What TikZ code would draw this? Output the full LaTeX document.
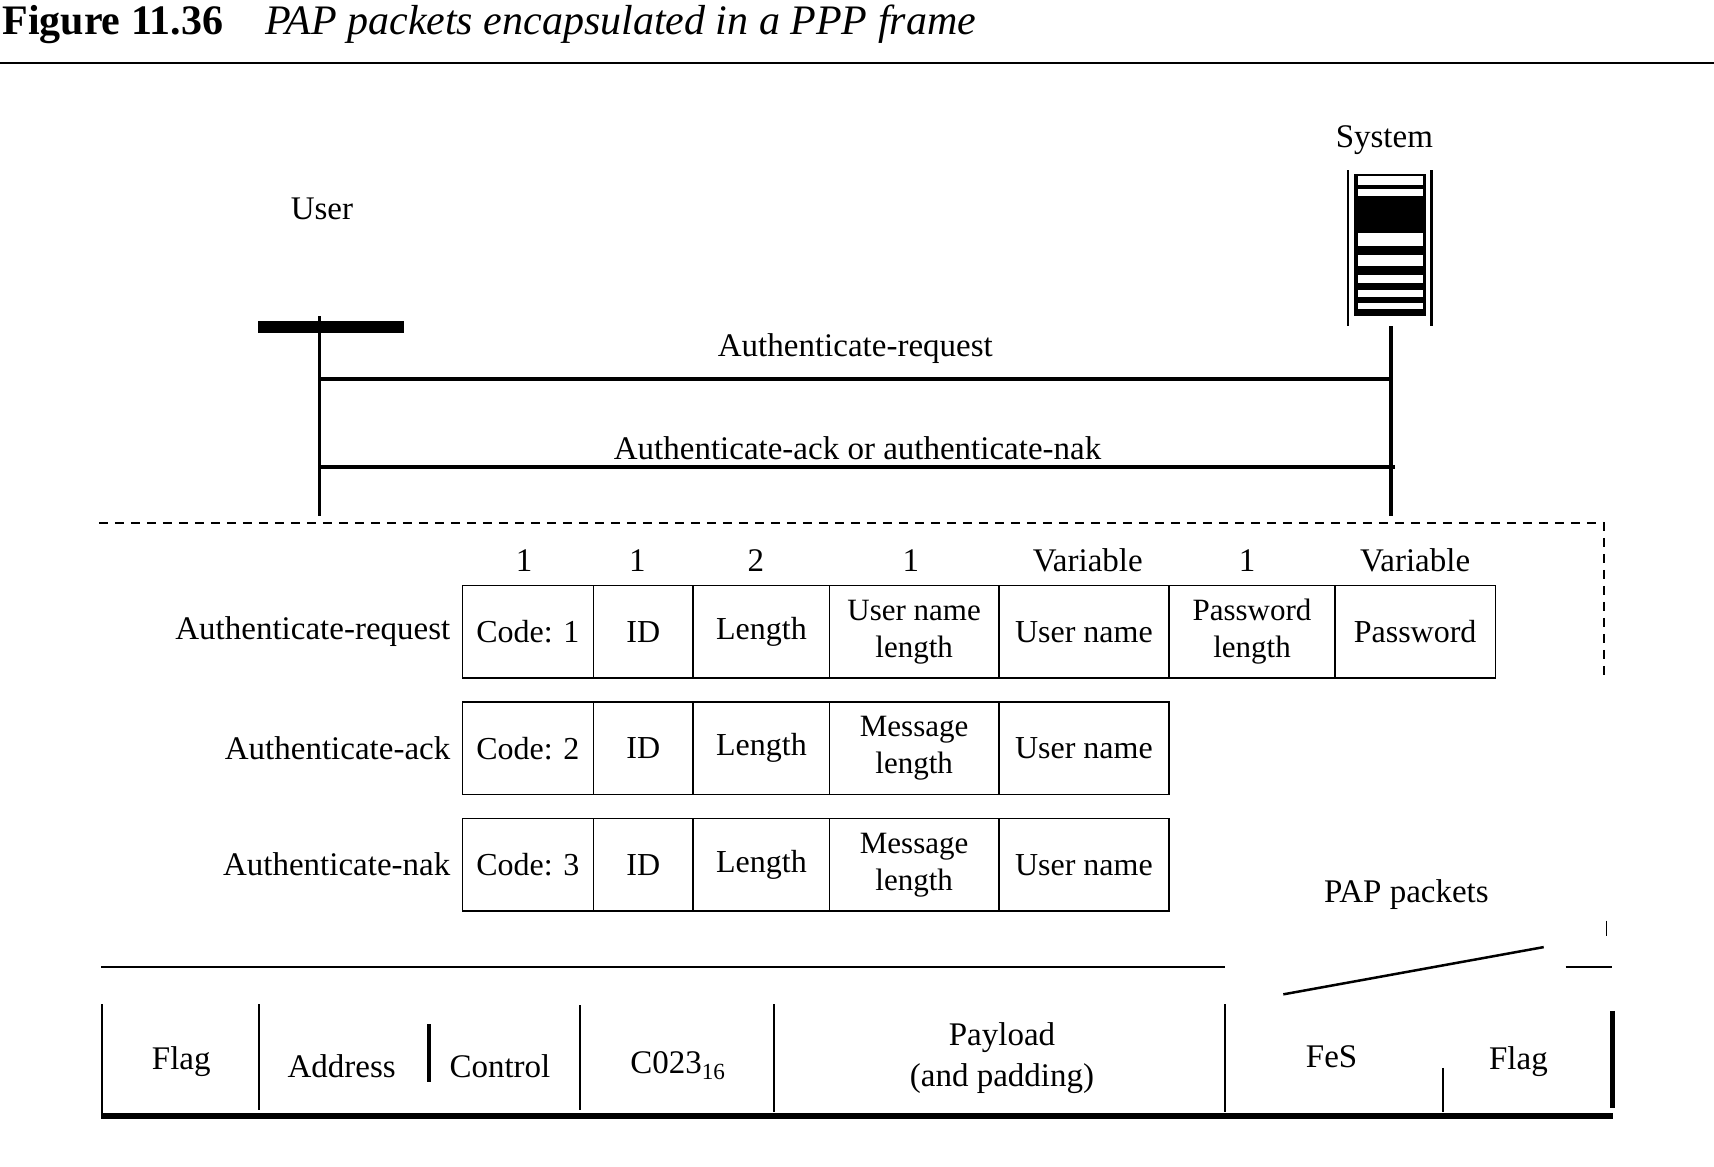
\documentclass[tikz,border=0pt]{standalone}
\usepackage{fontspec}
\setmainfont{Liberation Serif}
\usetikzlibrary{positioning}
\begin{document}
\begin{tikzpicture}[x=1.0987pt,y=-1.0987pt,
  lbl/.style={inner sep=0pt, font=\fontsize{33}{35}\selectfont},
  cell/.style={draw, line width=1.6pt, minimum height=84pt*1.0987, inner sep=0pt, outer sep=0pt,
    align=center, font=\fontsize{32}{32}\selectfont},
  wire/.style={line width=3.5pt},
  seg/.style={line width=2pt}]
\useasboundingbox (0,0) rectangle (1560,1062);
% title
\node[lbl, anchor=base west, font=\fontsize{42}{45}\selectfont] (title) at (2,31) {\textbf{Figure 11.36}\quad\textit{PAP packets encapsulated in a PPP frame}};
\draw[line width=2pt] (0,57) -- (1562,57);

% stations
\node[lbl] (user) at (293,190) {User};
\node[lbl] (system) at (1260,128) {System};
\fill (235,292) rectangle (368,303);
\draw[line width=2.5pt] (1227,155) -- (1227,297) (1303,155) -- (1303,297);
\fill (1232,158) rectangle (1298,288);
\foreach \y/\h in {160/8,172/6,212/12,232/10,250/8,264/6,276/5}
  \fill[white] (1236,\y) rectangle (1295,\y+\h);
\coordinate (u0) at (291,288);
\coordinate (u1) at (291,470);
\coordinate (s0) at (1266,297);
\coordinate (s1) at (1266,470);
\draw[wire] (u0) -- (u1);
\draw[wire] (s0) -- (s1);
\coordinate (r0) at (291,345); \coordinate (r1) at (1266,345);
\coordinate (a0) at (291,425); \coordinate (a1) at (1270,425);
\draw[wire] (r0) -- node[lbl, above=14pt] (req) {Authenticate-request} (r1);
\draw[wire] (a0) -- node[lbl, above=5pt] (ack) {Authenticate-ack or authenticate-nak} (a1);

% dashed box
\draw[dashed, line width=2pt, dash pattern=on 9pt off 7pt] (90,476) -- (1460,476) -- (1460,620);
\draw[line width=1.5pt] (1462,838) -- (1462,852);

% packet formats
\foreach \x/\w in {477/1,580/1,688/2,829/1,990/Variable,1135/1,1288/Variable}
  \node[lbl] at (\x,510) {\w};
\foreach \r/\y/\name/\c/\l in {1/575/Authenticate-request/1/User name\\length,
  2/681/Authenticate-ack/2/Message\\length, 3/787/Authenticate-nak/3/Message\\length}{
  \node[lbl, anchor=east] (row\r) at (410,\y) {\name};
  \node[cell, minimum width=119pt*1.0987, anchor=west] (code\r) at (421,\y) {Code: \c};
  \node[cell, minimum width=91pt*1.0987, right=0pt of code\r] (id\r) {ID};
  \node[cell, minimum width=124pt*1.0987, right=0pt of id\r] (len\r) {Length};
  \node[cell, minimum width=154pt*1.0987, right=0pt of len\r, font=\fontsize{31}{37}\selectfont] (ul\r) {\l};
  \node[cell, minimum width=155pt*1.0987, right=0pt of ul\r] (un\r) {User name};
}
\node[cell, minimum width=151pt*1.0987, right=0pt of un1, font=\fontsize{31}{37}\selectfont] (pl1) {Password\\length};
\node[cell, minimum width=146pt*1.0987, right=0pt of pl1] (pw1) {Password};
\node[lbl] (pap) at (1280,814) {PAP packets};

% PPP frame
\draw[seg] (92,880) -- (1115,880);
\draw[seg] (1425,880) -- (1467,880);
\draw[line width=2.5pt] (1168,905) -- (1405,862);
\draw[line width=6pt] (92,1016) -- (1468,1016);
\draw[seg] (93,914) -- (93,1016) (236,914) -- (236,1010) (528,915) -- (528,1010)
  (704,914) -- (704,1012) (1115,914) -- (1115,1012) (1313,972) -- (1313,1012);
\draw[line width=4pt] (390,932) -- (390,985);
\draw[line width=5pt] (1468,920) -- (1468,1008);
\node[lbl] (flag1) at (165,966) {Flag};
\node[lbl] (addr) at (311,970) {Address};
\node[lbl] (ctrl) at (455,970) {Control};
\node[lbl] (proto) at (617,970) {C023$_{\mathrm{16}}$};
\node[lbl, align=center, font=\fontsize{33}{41}\selectfont] (load) at (912,963) {Payload\\(and padding)};
\node[lbl] (fcs) at (1212,962) {FeS};
\node[lbl] (flag2) at (1382,966) {Flag};
\end{tikzpicture}
\end{document}
